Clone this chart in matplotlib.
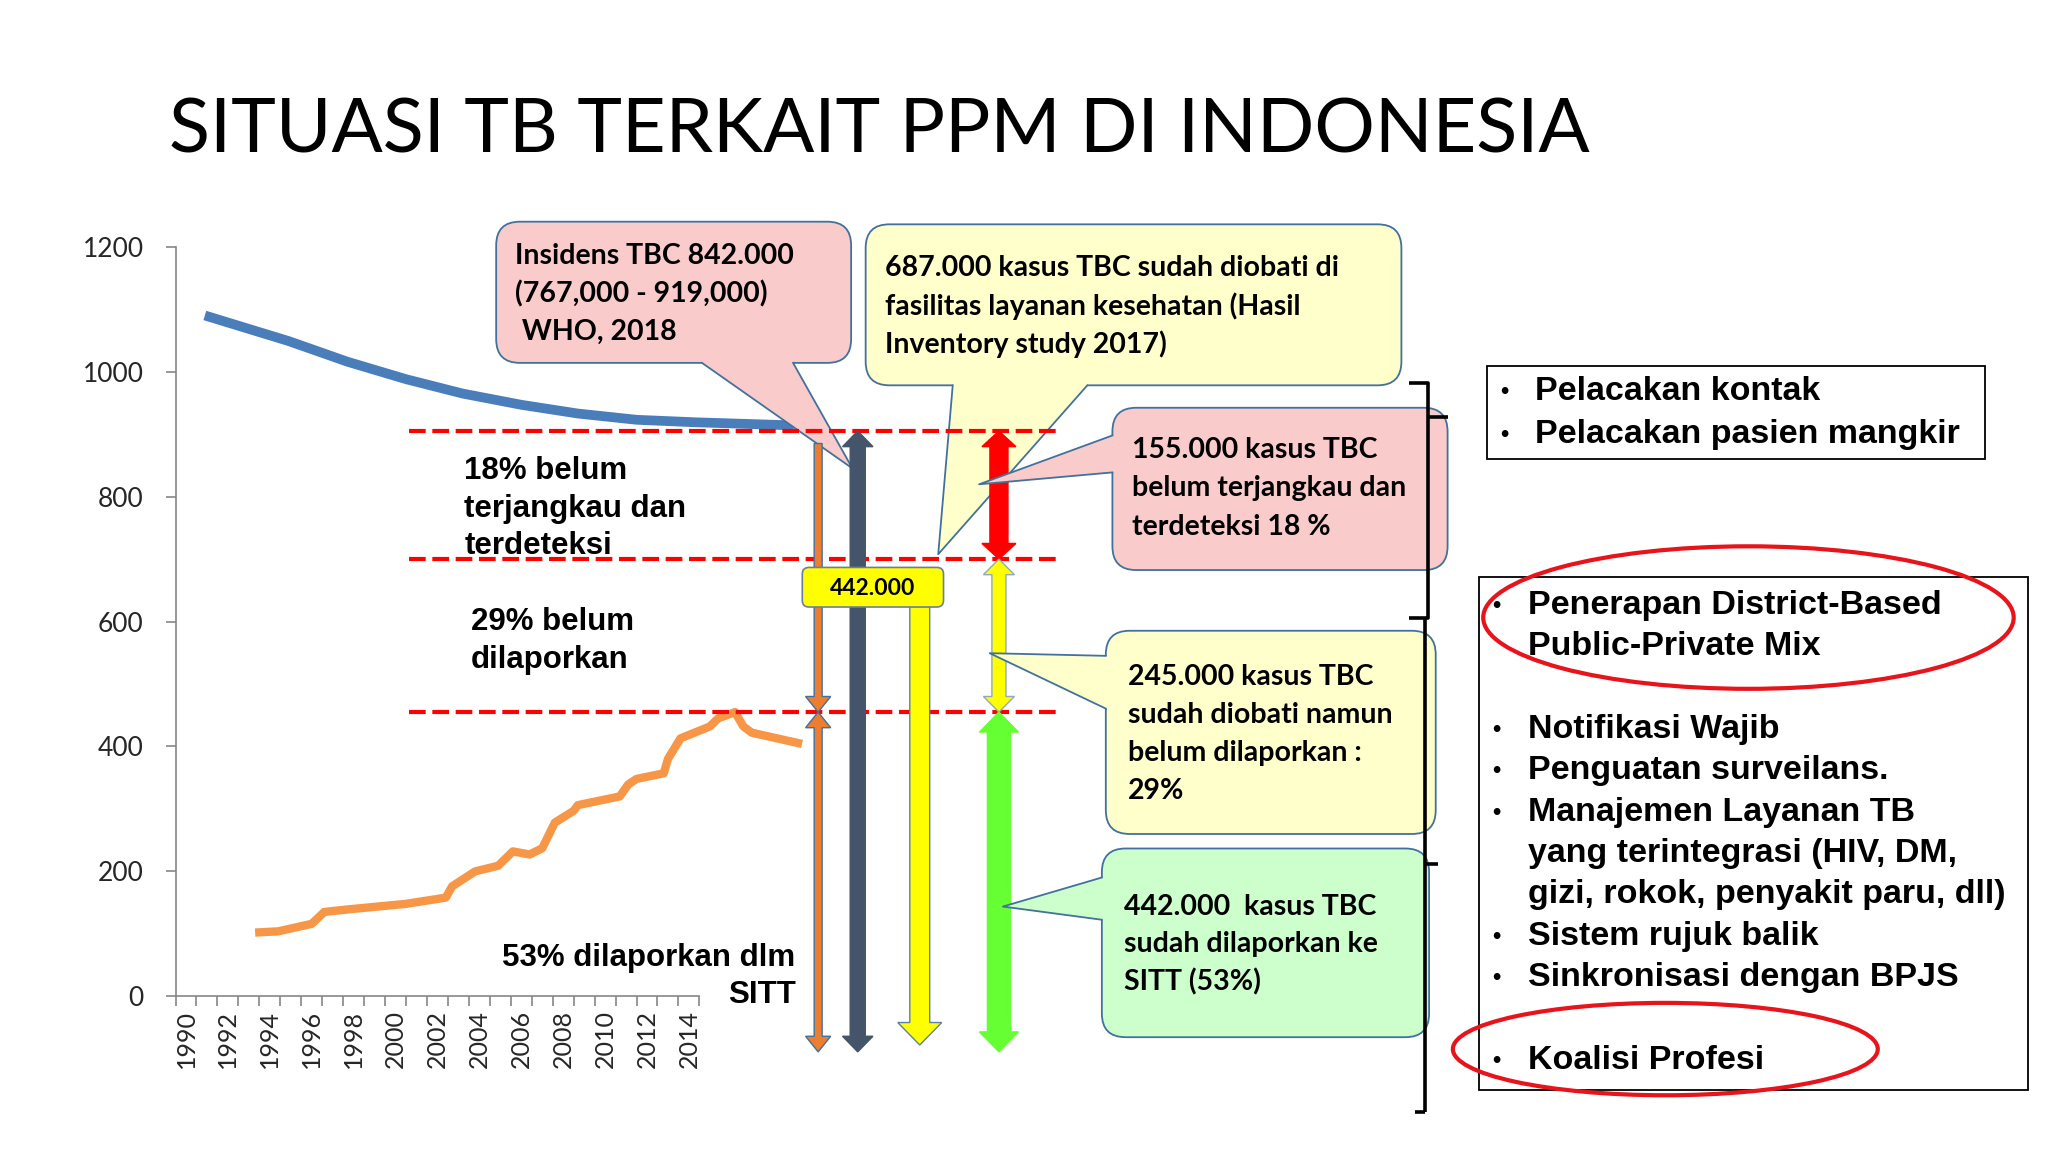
import matplotlib.pyplot as plt
import numpy as np
from matplotlib import font_manager
from matplotlib.patches import FancyBboxPatch, Polygon, Rectangle, Ellipse
from matplotlib.transforms import Affine2D

# Data
blue_years = [1990.9, 1994.9, 1997.7, 2000.5, 2003.2, 2006.0, 2008.7, 2011.5, 2014.3, 2019.0]
blue_vals = [1090, 1049, 1016, 988, 965, 947, 933, 923, 919, 914]

orange_years = [1993.3, 1994.4, 1996.0, 1996.6, 1997.7, 2000.5, 2002.4, 2002.7, 2003.8,
                2004.9, 2005.6, 2006.4, 2007.0, 2007.6, 2008.5, 2008.7, 2010.7, 2011.1,
                2011.5, 2012.8, 2013.0, 2013.6, 2015.0, 2015.4, 2016.2, 2016.6, 2017.0, 2019.4]
orange_vals = [102, 104, 116, 135, 139, 148, 158, 176, 200, 209, 232, 227, 237, 278, 297,
               306, 320, 339, 348, 357, 380, 413, 432, 445, 455, 432, 422, 404]

level_top = 905      # insidens
level_mid = 700      # diobati
level_low = 455      # dilaporkan
level_bottom = -89
box_442_bottom = 625

year_ticks = list(range(1990, 2015, 2))
y_ticks = [0, 200, 400, 600, 800, 1000, 1200]

title = "SITUASI TB TERKAIT PPM DI INDONESIA"
callout_texts = [
    ["Insidens TBC 842.000", "(767,000 - 919,000)", " WHO, 2018"],
    ["687.000 kasus TBC sudah diobati di", "fasilitas layanan kesehatan (Hasil", "Inventory study 2017)"],
    ["155.000 kasus TBC", "belum terjangkau dan", "terdeteksi 18 %"],
    ["245.000 kasus TBC", "sudah diobati namun", "belum dilaporkan :", "29%"],
    ["442.000  kasus TBC", "sudah dilaporkan ke", "SITT (53%)"],
]
box_a_lines = ["Pelacakan kontak", "Pelacakan pasien mangkir"]
box_b_lines = [("•", "Penerapan District-Based"), ("", "Public-Private Mix"), ("", ""),
               ("•", "Notifikasi Wajib"), ("•", "Penguatan surveilans."),
               ("•", "Manajemen Layanan TB"), ("", "yang terintegrasi (HIV, DM,"),
               ("", "gizi, rokok, penyakit paru, dll)"), ("•", "Sistem rujuk balik"),
               ("•", "Sinkronisasi dengan BPJS"), ("", ""), ("•", "Koalisi Profesi")]

W, H = 1552, 873  # reference layout units

installed = {f.name for f in font_manager.fontManager.ttflist}
if "Liberation Sans Narrow" in installed:
    title_font, title_size = "Liberation Sans Narrow", 63
else:
    title_font, title_size = "Lato", 54.5

fig = plt.figure(figsize=(20.48, 11.52), dpi=100)
fig.patch.set_facecolor("white")
ax = fig.add_axes([133 / W, 1 - 755 / H, (530 - 133) / W, (755 - 187) / H])
ref = Affine2D().scale(1 / W, -1 / H).translate(0, 1) + fig.transFigure

def yr(px):
    return 1989.5 + (px - 133) * 25 / 397

# lines
ax.plot(blue_years, blue_vals, color="#4A7EBB", lw=7, solid_capstyle="butt", clip_on=False, zorder=2)
ax.plot(orange_years, orange_vals, color="#F79646", lw=6, solid_capstyle="butt", clip_on=False, zorder=2)

ax.set_xlim(1989.5, 2014.5)
ax.set_ylim(0, 1200)
ax.set_xticks(year_ticks)
ax.set_xticklabels([str(y) for y in year_ticks], rotation=90, fontsize=18, family="Lato", color="#262626")
ax.set_xticks(np.arange(1989.5, 2015, 1), minor=True)
ax.tick_params(axis="x", which="major", length=0, pad=10)
ax.tick_params(axis="x", which="minor", length=7, color="#868686", width=1.2)
ax.set_yticks(y_ticks)
ax.set_yticklabels([str(v) for v in y_ticks], fontsize=19, family="Lato", color="#262626")
ax.tick_params(axis="y", length=7, color="#868686", width=1.2, pad=16)
for s in ["top", "right"]:
    ax.spines[s].set_visible(False)
for s in ["left", "bottom"]:
    ax.spines[s].set_color("#868686")
    ax.spines[s].set_linewidth(1.2)

# dashed levels
ax.hlines([level_top, level_mid, level_low], yr(310), yr(800), colors="#FF0000", lw=3.0,
          linestyles=(0, (4, 1.6)), clip_on=False, zorder=4)

def block_arrow(x, top, bot, shaft, head, hlen, heads, fc, ec=None):
    pts = []
    if "top" in heads:
        pts += [(x - shaft / 2, top - hlen), (x - head / 2, top - hlen), (x, top),
                (x + head / 2, top - hlen), (x + shaft / 2, top - hlen)]
    else:
        pts += [(x - shaft / 2, top), (x + shaft / 2, top)]
    if "bot" in heads:
        pts += [(x + shaft / 2, bot + hlen), (x + head / 2, bot + hlen), (x, bot),
                (x - head / 2, bot + hlen), (x - shaft / 2, bot + hlen)]
    else:
        pts += [(x + shaft / 2, bot), (x - shaft / 2, bot)]
    p = Polygon(pts, closed=True, fc=fc, ec=ec if ec else fc, lw=1.0, clip_on=False, zorder=5)
    ax.add_patch(p)

x_or, x_db, x_ye, x_rg = yr(620), yr(650), yr(697), yr(757)
block_arrow(x_or, 885, level_low, 0.38, 1.2, 25, ["bot"], "#ED7D31", "#41719C")
block_arrow(x_or, level_low, level_bottom, 0.38, 1.2, 25, ["top", "bot"], "#ED7D31", "#41719C")
block_arrow(x_db, level_top, level_bottom, 0.72, 1.45, 25, ["top", "bot"], "#44546A")
block_arrow(x_ye, box_442_bottom, -78, 0.95, 2.1, 36, ["bot"], "#FFFF00", "#5B7FA6")
block_arrow(x_rg, level_top, level_mid, 0.86, 1.62, 25, ["top", "bot"], "#FF0000")
block_arrow(x_rg, level_mid, level_low, 0.67, 1.48, 25, ["top", "bot"], "#FFFF00", "#8FA8C8")
block_arrow(x_rg, level_low, level_bottom, 1.1, 1.86, 32, ["top", "bot"], "#66FF33")

# 442.000 box
ax.add_patch(FancyBboxPatch((608, 430), 107, 30, boxstyle="round,pad=0,rounding_size=5",
                            transform=ref, fc="#FFFF00", ec="#6C7F99", lw=1.2, clip_on=False, zorder=6))
ax.text(661, 446, "442.000", transform=ref, ha="center", va="center", fontsize=16.5,
        family="Lato", weight="bold", zorder=7)

# callouts
edge = "#41719C"
def callout(box, side, base, tip, fc, lines, tx, ty, dy, z=3):
    x0, x1, y0, y1 = box
    ax.add_patch(FancyBboxPatch((x0, y0), x1 - x0, y1 - y0, boxstyle="round,pad=0,rounding_size=18",
                                transform=ref, fc=fc, ec=edge, lw=1.3, clip_on=False, zorder=z))
    if side == "bottom":
        a, b = (base[0], y1), (base[1], y1)
        ai, bi = (base[0], y1 - 4), (base[1], y1 - 4)
    else:
        a, b = (x0, base[0]), (x0, base[1])
        ai, bi = (x0 + 4, base[0]), (x0 + 4, base[1])
    ax.add_patch(Polygon([ai, a, tip, b, bi], closed=True, transform=ref, fc=fc, ec="none",
                         clip_on=False, zorder=z + 0.1))
    ax.plot([a[0], tip[0], b[0]], [a[1], tip[1], b[1]], transform=ref, color=edge, lw=1.3,
            clip_on=False, zorder=z + 0.2)
    for i, t in enumerate(lines):
        ax.text(tx, ty + i * dy, t, transform=ref, ha="left", va="center", fontsize=20.5,
                family="Lato", weight="bold", color="black", zorder=7)

callout((376, 645, 168, 275), "bottom", (532, 601), (646, 355), "#FACBCB",
        callout_texts[0], 390, 194, 28.7)
callout((656, 1062, 170, 292), "bottom", (722, 824), (711, 420), "#FFFFCC",
        callout_texts[1], 671, 203, 29)
callout((843, 1097, 309, 432), "left", (330, 358), (742, 367), "#FACBCB",
        callout_texts[2], 858, 341, 29, z=5.5)
callout((838, 1088, 478, 632), "left", (497, 537), (750, 495), "#FFFFCC",
        callout_texts[3], 855, 513, 28.7, z=5.5)
callout((835, 1083, 643, 786), "left", (665, 697), (760, 687), "#CCFFCC",
        callout_texts[4], 852, 687, 28.7, z=5.5)

# left labels
lab = dict(transform=ref, fontsize=22.5, family="Liberation Sans", weight="bold", va="center", zorder=7)
for i, t in enumerate(["18% belum", "terjangkau dan", "terdeteksi"]):
    ax.text(352, 357 + i * 28.5, t, ha="left", **lab)
for i, t in enumerate(["29% belum", "dilaporkan"]):
    ax.text(357, 471 + i * 29, t, ha="left", **lab)
ax.text(603, 726, "53% dilaporkan dlm", ha="right", **lab)
ax.text(603, 754, "SITT", ha="right", **lab)

# title
fig.text(128 / W, 1 - 99 / H, title, fontsize=title_size, family=title_font, va="center", ha="left")

# brackets
bk = dict(transform=ref, color="black", lw=2.6, clip_on=False, zorder=7, solid_capstyle="butt")
ax.plot([1068, 1082, 1082, 1068], [290, 290, 468, 468], **bk)
ax.plot([1082, 1097], [316, 316], **bk)
ax.plot([1080, 1080], [468, 843], **bk)
ax.plot([1080, 1090], [655, 655], **bk)
ax.plot([1072, 1080], [843, 843], **bk)

# right boxes
ax.add_patch(Rectangle((1127, 277), 377, 71, transform=ref, fc="white", ec="black", lw=1.3,
                       clip_on=False, zorder=3))
rt = dict(transform=ref, fontsize=24.5, family="Liberation Sans", weight="bold", va="center", zorder=7)
bl = dict(transform=ref, fontsize=17, family="Liberation Sans", weight="bold", va="center", zorder=7)
for i, t in enumerate(box_a_lines):
    ax.text(1137, 297 + i * 32, "•", ha="left", **bl)
    ax.text(1163, 297 + i * 32, t, ha="left", **rt)

ax.add_patch(Rectangle((1121, 437), 416, 389, transform=ref, fc="white", ec="black", lw=1.3,
                       clip_on=False, zorder=3))
for i, (b, t) in enumerate(box_b_lines):
    y = 459 + i * 31.3
    if b:
        ax.text(1131, y, b, ha="left", **bl)
    if t:
        ax.text(1158, y, t, ha="left", **rt)

ax.add_patch(Ellipse((1325, 468), 402, 108, transform=ref, fc="none", ec="#E8141B", lw=3,
                     clip_on=False, zorder=8))
ax.add_patch(Ellipse((1262, 795), 322, 70, transform=ref, fc="none", ec="#E8141B", lw=3,
                     clip_on=False, zorder=8))

plt.savefig("out.png", dpi=100)
